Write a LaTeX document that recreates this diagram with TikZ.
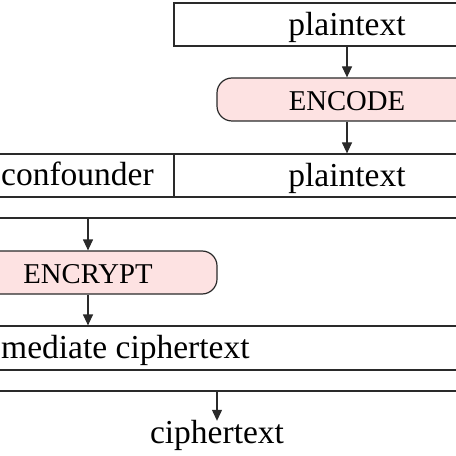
\documentclass[tikz,border=0pt]{standalone}
\usepackage{fontspec}
\setmainfont{Liberation Serif}
\usetikzlibrary{arrows.meta}
\definecolor{procfill}{HTML}{FDE2E2}
\definecolor{linecol}{HTML}{2A2A2A}
\begin{document}
\begin{tikzpicture}[x=1bp,y=-1bp,
  cell/.style={draw=linecol,line width=1.2bp,inner sep=0pt,minimum height=43bp,
    text height=22bp,text depth=0bp,font=\fontsize{33.5bp}{36bp}\selectfont},
  proc/.style={cell,fill=procfill,rounded corners=15bp,font=\fontsize{28.7bp}{32bp}\selectfont},
  frame/.style={draw=linecol,line width=1.2bp,inner sep=0pt},
  lbl/.style={inner sep=0pt,text height=22bp,text depth=0bp,font=\fontsize{33.5bp}{36bp}\selectfont},
  arr/.style={draw=linecol,line width=1.2bp,-{Triangle[length=11bp,width=10bp]}}]
\useasboundingbox (0,0) rectangle (456,456);
\clip (0,0) rectangle (456,456);
% encryption frame
\node[frame,minimum width=620bp,minimum height=173bp] (encbox) at (230,304.5) {};
% top plaintext
\node[cell,minimum width=346bp] (p1) at (347,24.5) {plaintext};
\node[proc,minimum width=260bp] (encode) at (347,99.5) {ENCODE};
% row 2
\node[cell,minimum width=214bp] (conf) at (67,175.5) {};
\node[lbl,anchor=base west] (conftext) at (1,186) {confounder};
\node[cell,minimum width=346bp] (p2) at (347,175.5) {plaintext};
% encrypt
\node[proc,minimum width=258bp] (encrypt) at (88,272.5) {ENCRYPT};
% intermediate ciphertext
\node[cell,minimum width=620bp,minimum height=44bp] (mid) at (230,348) {};
\node[lbl,anchor=base west] (midtext) at (1,358) {mediate ciphertext};
% output
\node[lbl,anchor=base] (cipher) at (217,443) {ciphertext};
% connectors
\draw[arr] (p1.south) -- (encode.north);
\draw[arr] (encode.south) -- (p2.north);
\draw[arr] (encrypt.north |- encbox.north) -- (encrypt.north);
\draw[arr] (encrypt.south) -- (encrypt.south |- mid.north);
\draw[arr] (cipher.north |- encbox.south) -- (cipher.north);
\end{tikzpicture}
\end{document}
